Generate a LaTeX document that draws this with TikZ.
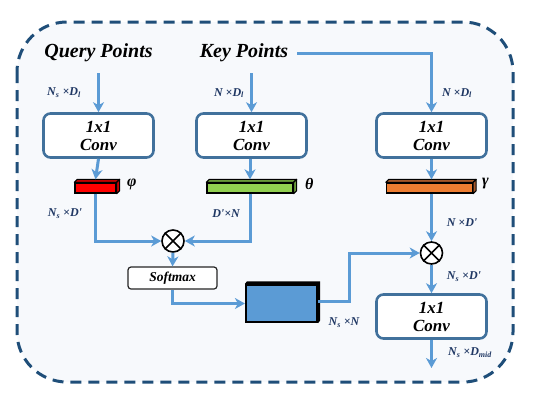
\documentclass[tikz,border=0pt]{standalone}
\usepackage{fontspec}
\setmainfont{Liberation Serif}
\usetikzlibrary{arrows.meta,calc}
\definecolor{arrowblue}{HTML}{5B9BD5}
\definecolor{boxblue}{HTML}{41719C}
\definecolor{dashblue}{HTML}{1F4E79}
\definecolor{labelnavy}{HTML}{203864}
\definecolor{bgfill}{HTML}{F7F9FC}
\definecolor{barred}{HTML}{FF0000}
\definecolor{barredtop}{HTML}{C00000}
\definecolor{bargreen}{HTML}{92D050}
\definecolor{bargreentop}{HTML}{6A9A3A}
\definecolor{barorange}{HTML}{ED7D31}
\definecolor{barorangetop}{HTML}{A5582A}
\definecolor{bbfill}{HTML}{5B9BD5}
\tikzset{
  arr/.style={draw=arrowblue, line width=3pt, -{Stealth[length=10pt,width=11pt,inset=3pt]}},
  convbox/.style={draw=boxblue, line width=2.6pt, rounded corners=7pt, fill=white,
    minimum width=110pt, minimum height=44pt, align=center,
    font=\fontsize{17}{18}\selectfont\bfseries\itshape, inner sep=0pt},
  title/.style={font=\fontsize{20}{22}\selectfont\bfseries\itshape, inner sep=0pt},
  lbl/.style={font=\fontsize{12}{13}\selectfont\bfseries\itshape, text=labelnavy, inner sep=0pt},
  greek/.style={font=\fontsize{16}{17}\selectfont\bfseries\itshape, inner sep=0pt},
  barbox/.style={draw=black, line width=1.3pt, minimum height=10pt, inner sep=0pt},
  mult/.style={circle, draw=black, line width=1.6pt, minimum size=22pt, fill=white, inner sep=0pt},
  smbox/.style={draw=black!85, line width=1.2pt, rounded corners=3pt, fill=white,
    minimum width=89pt, minimum height=22pt, inner sep=0pt,
    font=\fontsize{13.5}{14}\selectfont\bfseries\itshape},
}
\begin{document}
\begin{tikzpicture}[x=1pt,y=-1pt]
\useasboundingbox (0,0) rectangle (534,402);
% outer dashed frame
\draw[dashblue, line width=3pt, dash pattern=on 11pt off 7pt, fill=bgfill, rounded corners=50pt]
  (17,22) rectangle (513,382);

% titles
\node[title] (qp) at (98.5,53) {Query Points};
\node[title] (kp) at (244,53) {Key Points};

% conv boxes
\node[convbox] (c1) at (98.5,135.5) {1x1\\Conv};
\node[convbox] (c2) at (251.5,135.5) {1x1\\Conv};
\node[convbox] (c3) at (431.5,135.5) {1x1\\Conv};
\node[convbox] (c4) at (431.5,316.5) {1x1\\Conv};

% bars (front faces)
\node[barbox, fill=barred, minimum width=41pt] (bar1) at (95.5,188) {};
\node[barbox, fill=bargreen, minimum width=86pt] (bar2) at (250,188) {};
\node[barbox, fill=barorange, minimum width=86pt] (bar3) at (429.5,188) {};
% bar 3D faces
\foreach \b/\c in {bar1/barredtop, bar2/bargreentop, bar3/barorangetop}{
  \draw[black, line width=1.1pt, fill=\c, line join=round]
    (\b.north west) -- ++(3,-3) -- ($(\b.north east)+(3,-3)$) -- (\b.north east) -- cycle;
  \draw[black, line width=1.1pt, fill=\c, line join=round]
    (\b.north east) -- ++(3,-3) -- ($(\b.south east)+(3,-3)$) -- (\b.south east) -- cycle;
}
\node[greek, anchor=west] (phi) at (127,184) {φ};
\node[greek, anchor=west] (theta) at (305,184) {θ};
\node[greek, anchor=west] (gamma) at (482,184) {γ};

% multiplication nodes
\node[mult] (m1) at (173,241) {};
\draw[black, line width=1.6pt] (m1.north east) -- (m1.south west) (m1.north west) -- (m1.south east);
\node[mult] (m2) at (431.5,253) {};
\draw[black, line width=1.6pt] (m2.north east) -- (m2.south west) (m2.north west) -- (m2.south east);

% softmax
\node[smbox] (sm) at (172.5,278) {Softmax};

% blue block
\node[draw=black, line width=2.2pt, fill=bbfill, minimum width=71pt, minimum height=37pt, inner sep=0pt] (bb) at (281.5,303.5) {};
\fill[black] (bb.north west) -- ++(2,-2.5) -- ($(bb.north east)+(2,-2.5)$)
  -- ($(bb.south east)+(2,-2.5)$) -- (bb.south east) -- (bb.north east) -- cycle;

% output coordinate
\coordinate (out) at (431.5,368);

% connectors
\draw[arr, shorten <=11pt] (qp.south) -- (c1.north);
\draw[arr, shorten <=11pt] (kp.south -| c2.north) -- (c2.north);
\draw[arr, shorten <=9pt] (kp.east) -| (c3.north);
\draw[arr] (c1.south) -- ($(bar1.north)+(0,-3)$);
\draw[arr] (c2.south -| bar2.north) -- ($(bar2.north)+(0,-3)$);
\draw[arr] (c3.south) -- ($(bar3.north -| c3.south)+(0,-3)$);
\draw[arr] (bar1.south) |- (m1.west);
\draw[arr] (bar2.south) |- (m1.east);
\draw[arr] (m1.south) -- (sm.north);
\draw[arr] (sm.south) |- (bb.west);
\draw[arr] ([yshift=2pt]bb.east) -- ++(31,0) |- (m2.west);
\draw[arr] (bar3.south -| m2.north) -- (m2.north);
\draw[arr] (m2.south) -- (c4.north);
\draw[arr] (c4.south) -- (out);

% labels
\node[lbl] (l1) at (64,93) {N\textsubscript{s} ×D\textsubscript{l}};
\node[lbl] (l2) at (229,93) {N ×D\textsubscript{l}};
\node[lbl] (l3) at (457,93) {N ×D\textsubscript{l}};
\node[lbl] (l4) at (65,214) {N\textsubscript{s} ×D\textquotesingle};
\node[lbl] (l5) at (226,214) {D\textquotesingle ×N};
\node[lbl] (l6) at (462,223) {N ×D\textquotesingle};
\node[lbl] (l7) at (464,277) {N\textsubscript{s} ×D\textquotesingle};
\node[lbl] (l8) at (344,323) {N\textsubscript{s} ×N};
\node[lbl] (l9) at (470,353) {N\textsubscript{s} ×D\textsubscript{mid}};
\end{tikzpicture}
\end{document}
